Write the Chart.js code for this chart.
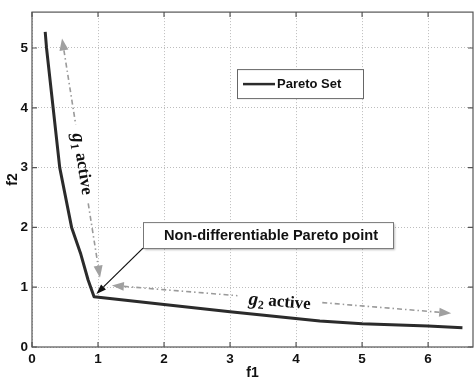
<!DOCTYPE html>
<html>
<head>
<meta charset="utf-8">
<script src="https://cdn.jsdelivr.net/npm/chart.js@4/dist/chart.umd.min.js"></script>
<style>
  html, body { margin: 0; padding: 0; background: #fff; }
</style>
</head>
<body>
<canvas id="paretoChart" width="474" height="382"></canvas>
<script>
// Pareto front
const f1Values = [0.2, 0.22, 0.32, 0.42, 0.6, 0.74, 0.85, 0.94, 2.0, 3.0, 4.36, 5.0, 6.0, 6.52];
const f2Values = [5.27, 5.0, 4.0, 3.0, 2.0, 1.55, 1.12, 0.84, 0.71, 0.59, 0.435, 0.39, 0.35, 0.32];
const xTicks = [0, 1, 2, 3, 4, 5, 6];
const yTicks = [0, 1, 2, 3, 4, 5];
const seriesLabel = "Pareto Set";
const noteText = "Non-differentiable Pareto point";

// annotation anchors in data units
const g1Arrow = { from: [0.455, 5.16], to: [1.03, 1.16], gap: [0.36, 0.69], sub: "1" };
const g2Arrow = { from: [1.21, 1.03], to: [6.35, 0.565], gap: [0.37, 0.62], sub: "2" };
const kinkTip = [0.975, 0.887];

const sans = "'Liberation Sans', Arial, sans-serif";
const serif = "'Liberation Serif', 'Times New Roman', serif";

function dashedArrow(ctx, a, b, gap) {
  const dx = b[0] - a[0], dy = b[1] - a[1];
  const len = Math.hypot(dx, dy), ux = dx / len, uy = dy / len;
  const head = 12, hw = 4.5;
  ctx.save();
  ctx.strokeStyle = "#9a9a9a";
  ctx.fillStyle = "#a0a0a0";
  ctx.lineWidth = 1.6;
  ctx.setLineDash([5, 3, 1.5, 3]);
  const p = (t) => [a[0] + dx * t, a[1] + dy * t];
  const h = head / len;
  [[h, gap[0]], [gap[1], 1 - h]].forEach(([t0, t1]) => {
    const s = p(t0), e = p(t1);
    ctx.beginPath(); ctx.moveTo(s[0], s[1]); ctx.lineTo(e[0], e[1]); ctx.stroke();
  });
  ctx.setLineDash([]);
  [[b, 1], [a, -1]].forEach(([tip, dir]) => {
    const bx = tip[0] - ux * head * dir, by = tip[1] - uy * head * dir;
    ctx.beginPath();
    ctx.moveTo(tip[0], tip[1]);
    ctx.lineTo(bx - uy * hw, by + ux * hw);
    ctx.lineTo(bx + uy * hw, by - ux * hw);
    ctx.closePath(); ctx.fill();
  });
  ctx.restore();
}

function activeLabel(ctx, a, b, gap, sub, offset) {
  const t = (gap[0] + gap[1]) / 2;
  const cx = a[0] + (b[0] - a[0]) * t, cy = a[1] + (b[1] - a[1]) * t;
  const ang = Math.atan2(b[1] - a[1], b[0] - a[0]);
  ctx.save();
  ctx.translate(cx, cy);
  ctx.rotate(ang);
  ctx.translate(0, offset);
  ctx.fillStyle = "#111";
  ctx.textBaseline = "middle";
  ctx.textAlign = "left";
  const gFont = "italic bold 19px " + serif, sFont = "bold 12px " + serif, aFont = "bold 17px " + serif;
  ctx.font = gFont; const wg = ctx.measureText("g").width;
  ctx.font = sFont; const ws = ctx.measureText(sub).width;
  ctx.font = aFont; const wa = ctx.measureText(" active").width;
  let x = -(wg + ws + wa) / 2;
  ctx.font = gFont; ctx.fillText("g", x, 0); x += wg;
  ctx.font = sFont; ctx.fillText(sub, x, 5); x += ws;
  ctx.font = aFont; ctx.fillText(" active", x, 0);
  ctx.restore();
}

const annotations = {
  id: "annotations",
  afterDatasetsDraw(chart) {
    const { ctx, chartArea: ca, scales: { x, y } } = chart;
    const px = (d) => [x.getPixelForValue(d[0]), y.getPixelForValue(d[1])];

    // axes box and inward ticks
    ctx.save();
    ctx.strokeStyle = "#555";
    ctx.lineWidth = 1.2;
    ctx.strokeRect(ca.left, ca.top, ca.right - ca.left, ca.bottom - ca.top);
    ctx.beginPath();
    xTicks.forEach((v) => {
      const p = x.getPixelForValue(v);
      ctx.moveTo(p, ca.bottom); ctx.lineTo(p, ca.bottom - 5);
      ctx.moveTo(p, ca.top); ctx.lineTo(p, ca.top + 5);
    });
    yTicks.forEach((v) => {
      const p = y.getPixelForValue(v);
      ctx.moveTo(ca.left, p); ctx.lineTo(ca.left + 5, p);
      ctx.moveTo(ca.right, p); ctx.lineTo(ca.right - 5, p);
    });
    ctx.stroke();
    ctx.restore();

    // g1 / g2 active arrows
    [[g1Arrow, 0], [g2Arrow, 3]].forEach(([ar, off]) => {
      const a = px(ar.from), b = px(ar.to);
      dashedArrow(ctx, a, b, ar.gap);
      activeLabel(ctx, a, b, ar.gap, ar.sub, off);
    });

    // legend box
    ctx.save();
    const lx = ca.left + 205, ly = ca.top + 57;
    ctx.fillStyle = "#fff";
    ctx.fillRect(lx, ly, 126, 29);
    ctx.strokeStyle = "#666"; ctx.lineWidth = 1;
    ctx.strokeRect(lx + 0.5, ly + 0.5, 126, 29);
    ctx.strokeStyle = "#2b2b2b"; ctx.lineWidth = 2.5;
    ctx.beginPath(); ctx.moveTo(lx + 6, ly + 15); ctx.lineTo(lx + 38, ly + 15); ctx.stroke();
    ctx.fillStyle = "#111";
    ctx.font = "bold 13px " + sans;
    ctx.textBaseline = "middle";
    ctx.fillText(seriesLabel, lx + 40, ly + 15);
    ctx.restore();

    // note box with arrow to the kink
    ctx.save();
    const bx = ca.left + 111, by = ca.top + 210, bw = 250, bh = 26;
    ctx.shadowColor = "rgba(0,0,0,0.25)";
    ctx.shadowOffsetX = 1.5; ctx.shadowOffsetY = 1.5; ctx.shadowBlur = 2;
    ctx.fillStyle = "#fff";
    ctx.fillRect(bx, by, bw, bh);
    ctx.shadowColor = "transparent";
    ctx.strokeStyle = "#777"; ctx.lineWidth = 1;
    ctx.strokeRect(bx + 0.5, by + 0.5, bw, bh);
    ctx.fillStyle = "#111";
    ctx.font = "bold 14.6px " + sans;
    ctx.textAlign = "center"; ctx.textBaseline = "middle";
    ctx.fillText(noteText, bx + bw / 2 + 3, by + bh / 2 + 1);
    const tip = px(kinkTip);
    const s = [bx, by + bh];
    const dx = tip[0] - s[0], dy = tip[1] - s[1], L = Math.hypot(dx, dy);
    const ux = dx / L, uy = dy / L, hl = 10, hw = 3.5;
    ctx.strokeStyle = "#111"; ctx.fillStyle = "#111"; ctx.lineWidth = 1.2;
    ctx.beginPath(); ctx.moveTo(s[0], s[1]); ctx.lineTo(tip[0] - ux * hl, tip[1] - uy * hl); ctx.stroke();
    const hx = tip[0] - ux * hl, hy = tip[1] - uy * hl;
    ctx.beginPath();
    ctx.moveTo(tip[0], tip[1]);
    ctx.lineTo(hx - uy * hw, hy + ux * hw);
    ctx.lineTo(hx + uy * hw, hy - ux * hw);
    ctx.closePath(); ctx.fill();
    ctx.restore();
  }
};

const tickFont = { family: sans, size: 13.5, weight: "bold" };

new Chart(document.getElementById("paretoChart"), {
  type: "scatter",
  data: {
    datasets: [{
      label: seriesLabel,
      data: f1Values.map((v, i) => ({ x: v, y: f2Values[i] })),
      showLine: true,
      borderColor: "#2b2b2b",
      borderWidth: 3,
      pointRadius: 0,
      tension: 0,
      borderJoinStyle: "round",
    }],
  },
  options: {
    responsive: false,
    animation: false,
    layout: { padding: { left: 0, right: 1, top: 0, bottom: 0 } },
    plugins: { legend: { display: false }, tooltip: { enabled: false } },
    scales: {
      x: {
        type: "linear", min: 0, max: 6.68,
        afterBuildTicks: (s) => { s.ticks = xTicks.map((v) => ({ value: v })); },
        afterFit: (s) => { s.height = 35; },
        grid: { color: "#bdbdbd", lineWidth: 1, drawTicks: false },
        border: { display: false, dash: [1, 2] },
        ticks: { color: "#111", font: tickFont, padding: 4, maxRotation: 0 },
        title: { display: true, text: "f1", color: "#111", font: { family: sans, size: 14, weight: "bold" }, padding: { top: 0, bottom: 0 } },
      },
      y: {
        type: "linear", min: 0, max: 5.6,
        afterBuildTicks: (s) => { s.ticks = yTicks.map((v) => ({ value: v })); },
        afterFit: (s) => { s.width = 32; },
        grid: { color: "#bdbdbd", lineWidth: 1, drawTicks: false },
        border: { display: false, dash: [1, 2] },
        ticks: { color: "#111", font: tickFont, padding: 4 },
        title: { display: true, text: "f2", color: "#111", font: { family: sans, size: 14, weight: "bold" }, padding: { top: 5, bottom: 0 } },
      },
    },
  },
  plugins: [annotations],
});
</script>
</body>
</html>
